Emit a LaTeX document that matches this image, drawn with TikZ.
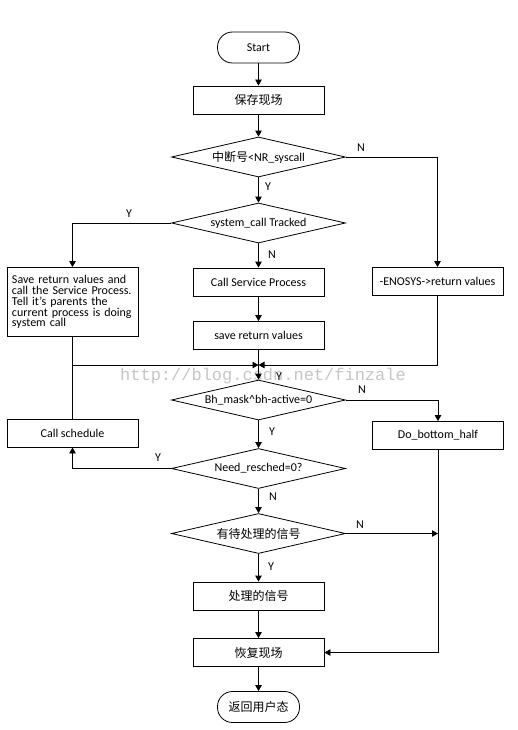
\documentclass[tikz,border=0pt]{standalone}
\usepackage{fontspec}
\setmainfont{Carlito}
\newfontfamily\cjk{Noto Sans CJK SC}
\newfontfamily\wmfont{Liberation Mono}
\usepackage{tikz}
\usetikzlibrary{shapes.geometric, arrows.meta}

\tikzset{
    term/.style = {draw, rounded corners=15pt, minimum width=82pt, minimum height=31pt, inner sep=0pt},
    proc/.style = {draw, minimum width=131pt, minimum height=28pt, inner sep=0pt},
    cond/.style = {draw, diamond, aspect=4.3, minimum width=174pt, minimum height=40pt, inner sep=0pt},
    lbl/.style  = {inner sep=0pt},
    wm/.style   = {inner sep=0pt, text=gray!45, font=\wmfont\fontsize{17}{17}\selectfont}
}

\begin{document}
\begin{tikzpicture}[x=1pt, y=-1pt, line width=0.8pt, font=\fontsize{12}{13}\selectfont,
                    >={Triangle[length=6pt, width=6.5pt]}]
    \useasboundingbox (0,0) rectangle (517,730);
    \node[wm] (wmark) at (263,376) {http://blog.csdn.net/finzale};

    \node[term] (start)    at (258.5,47.5)  {Start};
    \node[proc] (save)     at (258.5,100)   {\cjk 保存现场};
    \node[cond] (nrcheck)  at (258.5,157)   {{\cjk 中断号}<NR\_syscall};
    \node[cond] (tracked)  at (258.5,223)   {system\_call Tracked};
    \node[proc] (callsp)   at (258.5,282)   {Call Service Process};
    \node[proc] (saveret)  at (258.5,335.5) {save return values};
    \node[proc] (enosys)   at (437.5,281.5) {-ENOSYS->return values};
    \node[draw, minimum width=131pt, minimum height=69pt, text width=121pt, align=left,
          inner xsep=5pt, inner ysep=0pt, font=\fontsize{12}{10.8}\selectfont] (tracebox) at (72.5,302)
          {Save return values and\\call the Service Process.\\Tell it's parents the\\current process is doing\\system call};
    \node[cond] (bhcheck)  at (258.5,400)   {Bh\_mask\textasciicircum bh-active=0};
    \node[proc] (sched)    at (72.5,433)    {Call schedule};
    \node[proc] (dobh)     at (438,435.5)   {Do\_bottom\_half};
    \node[cond] (resched)  at (258.5,468.5) {Need\_resched=0?};
    \node[cond] (sigcheck) at (258.5,533.5) {\cjk 有待处理的信号};
    \node[proc] (handle)   at (258.5,596)   {\cjk 处理的信号};
    \node[proc] (restore)  at (258.5,652.5) {\cjk 恢复现场};
    \node[term] (back)     at (258.5,707)   {\cjk 返回用户态};

    \coordinate (join)  at (258.5,365);
    \coordinate (joinl) at (tracebox.south |- join);
    \coordinate (sigr)  at (dobh.south |- sigcheck.east);

    % connectors
    \draw[->] (start) -- (save);
    \draw[->] (save) -- (nrcheck);
    \draw[->] (nrcheck) -- (tracked);
    \draw[->] (nrcheck.east) -| (enosys.north);
    \draw[->] (tracked) -- (callsp);
    \draw[->] (tracked.west) -| (tracebox.north);
    \draw[->] (callsp) -- (saveret);
    \draw[->] (saveret) -- (bhcheck);
    \draw (tracebox.south) -- (joinl);
    \draw (sched.north) -- (joinl);
    \draw[->] (joinl) -- (join);
    \draw[->] (enosys.south) |- (join);
    \draw[->] (bhcheck) -- (resched);
    \draw[->] (bhcheck.east) -| (dobh.north);
    \draw[->] (resched.west) -| (sched.south);
    \draw[->] (resched) -- (sigcheck);
    \draw[->] (sigcheck.east) -- (sigr);
    \draw[->] (dobh.south) |- (restore.east);
    \draw[->] (sigcheck) -- (handle);
    \draw[->] (handle) -- (restore);
    \draw[->] (restore) -- (back);

    % Y / N labels
    \node[lbl] (nA) at (361,148) {N};
    \node[lbl] (yA) at (268,187) {Y};
    \node[lbl] (yB) at (129,214) {Y};
    \node[lbl] (nB) at (272,255) {N};
    \node[lbl] (yC) at (279,377) {Y};
    \node[lbl] (nC) at (362,390) {N};
    \node[lbl] (yD) at (272,432) {Y};
    \node[lbl] (yE) at (158,458) {Y};
    \node[lbl] (nD) at (273,497) {N};
    \node[lbl] (nE) at (360,525) {N};
    \node[lbl] (yF) at (271,567) {Y};
\end{tikzpicture}
\end{document}
